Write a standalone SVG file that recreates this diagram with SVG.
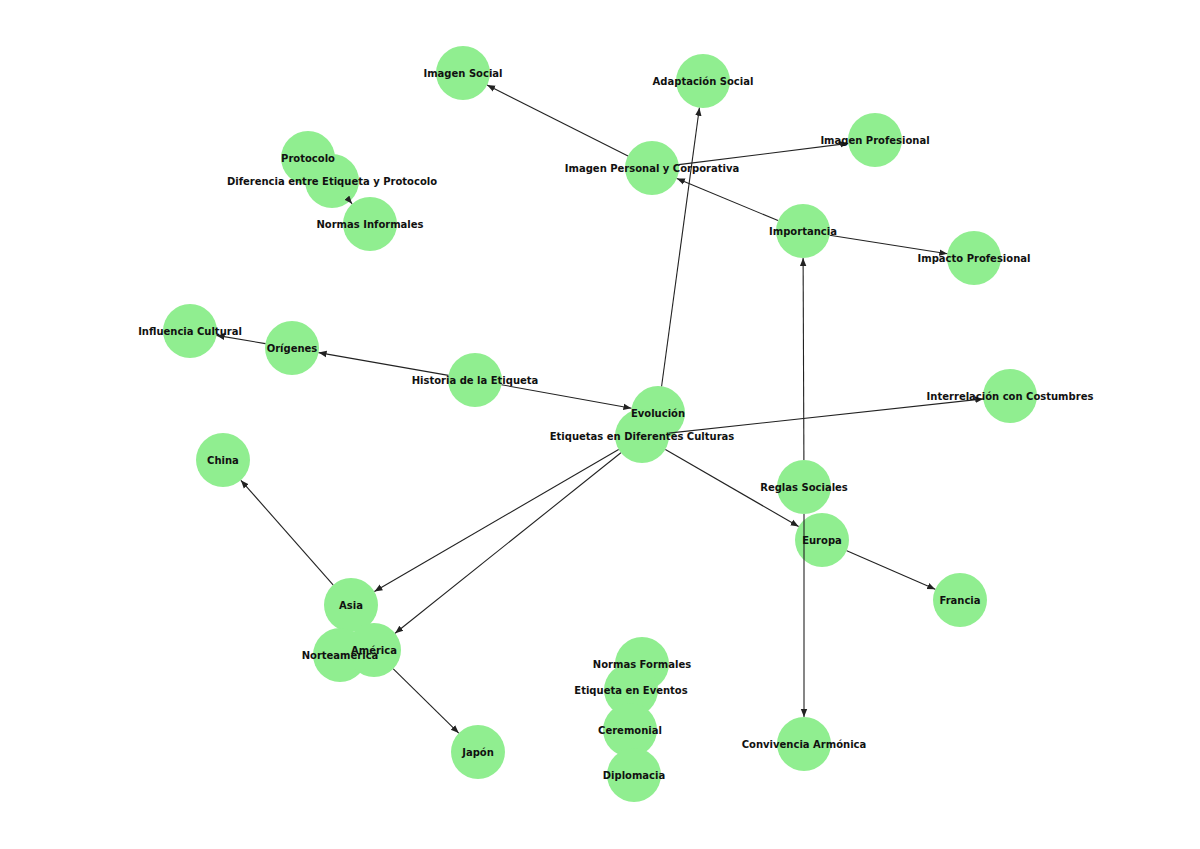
<svg xmlns="http://www.w3.org/2000/svg" width="1200" height="849" viewBox="0 0 1200 849">
<style>
.n circle{fill:#90ee90}
.l text{font-family:"DejaVu Sans",sans-serif;font-weight:bold;font-size:10px;fill:#111;text-anchor:middle;dominant-baseline:central}
.e line{stroke:#222;stroke-width:1.1;marker-end:url(#a)}
</style>
<defs><marker id="a" viewBox="0 0 10 10" refX="10" refY="5" markerWidth="8" markerHeight="8" markerUnits="userSpaceOnUse" orient="auto"><path d="M0,1 L10,5 L0,9 z" fill="#222"/></marker></defs>
<rect width="1200" height="849" fill="#fff"/>
<g id="n-imagen-social" class="n"><circle cx="463" cy="73" r="27"/></g>
<g id="n-adaptacion" class="n"><circle cx="703" cy="81" r="27"/></g>
<g id="n-imagen-prof" class="n"><circle cx="875" cy="140" r="27"/></g>
<g id="n-imagen-pers" class="n"><circle cx="652" cy="168" r="27"/></g>
<g id="n-protocolo" class="n"><circle cx="308" cy="158" r="27"/></g>
<g id="n-diferencia" class="n"><circle cx="332" cy="181" r="27"/></g>
<g id="n-normas-inf" class="n"><circle cx="370" cy="224" r="27"/></g>
<g id="n-importancia" class="n"><circle cx="803" cy="231" r="27"/></g>
<g id="n-impacto" class="n"><circle cx="974" cy="258" r="27"/></g>
<g id="n-influencia" class="n"><circle cx="190" cy="331" r="27"/></g>
<g id="n-origenes" class="n"><circle cx="292" cy="348" r="27"/></g>
<g id="n-historia" class="n"><circle cx="475" cy="380" r="27"/></g>
<g id="n-evolucion" class="n"><circle cx="658" cy="413" r="27"/></g>
<g id="n-etiquetas" class="n"><circle cx="642" cy="436" r="27"/></g>
<g id="n-interrelacion" class="n"><circle cx="1010" cy="396" r="27"/></g>
<g id="n-china" class="n"><circle cx="223" cy="460" r="27"/></g>
<g id="n-reglas" class="n"><circle cx="804" cy="487" r="27"/></g>
<g id="n-europa" class="n"><circle cx="822" cy="540" r="27"/></g>
<g id="n-francia" class="n"><circle cx="960" cy="600" r="27"/></g>
<g id="n-asia" class="n"><circle cx="351" cy="605" r="27"/></g>
<g id="n-norteamerica" class="n"><circle cx="340" cy="655" r="27"/></g>
<g id="n-america" class="n"><circle cx="374" cy="650" r="27"/></g>
<g id="n-japon" class="n"><circle cx="478" cy="752" r="27"/></g>
<g id="n-normas-form" class="n"><circle cx="642" cy="664" r="27"/></g>
<g id="n-eventos" class="n"><circle cx="631" cy="690" r="27"/></g>
<g id="n-ceremonial" class="n"><circle cx="630" cy="730" r="27"/></g>
<g id="n-diplomacia" class="n"><circle cx="634" cy="775" r="27"/></g>
<g id="n-convivencia" class="n"><circle cx="804" cy="744" r="27"/></g>
<g id="edges" class="e">
<line x1="628" y1="156" x2="487.1" y2="85.1"/>
<line x1="678.8" y1="164.6" x2="848.2" y2="143.4"/>
<line x1="778" y1="220.6" x2="676.9" y2="178.4"/>
<line x1="829.7" y1="235.2" x2="947.3" y2="253.8"/>
<line x1="661.6" y1="386.2" x2="699.4" y2="107.8"/>
<line x1="448.4" y1="375.4" x2="318.6" y2="352.6"/>
<line x1="265.4" y1="343.6" x2="216.6" y2="335.4"/>
<line x1="501.6" y1="384.8" x2="631.4" y2="408.2"/>
<line x1="668.8" y1="433.1" x2="983.2" y2="398.9"/>
<line x1="618.6" y1="449.6" x2="374.4" y2="591.4"/>
<line x1="620.9" y1="452.8" x2="395.1" y2="633.2"/>
<line x1="665.4" y1="449.5" x2="798.6" y2="526.5"/>
<line x1="333.1" y1="584.8" x2="240.9" y2="480.3"/>
<line x1="393.3" y1="668.9" x2="458.7" y2="733.1"/>
<line x1="846.8" y1="550.8" x2="935.2" y2="589.2"/>
<line x1="803.9" y1="460" x2="803.1" y2="258"/>
<line x1="804" y1="514" x2="804" y2="717"/>
<line x1="349.9" y1="201.2" x2="352.1" y2="203.8"/>
</g>
<g id="labels" class="l">
<text x="463" y="73">Imagen Social</text>
<text x="703" y="81">Adaptación Social</text>
<text x="875" y="140">Imagen Profesional</text>
<text x="652" y="168">Imagen Personal y Corporativa</text>
<text x="308" y="158">Protocolo</text>
<text x="332" y="181">Diferencia entre Etiqueta y Protocolo</text>
<text x="370" y="224">Normas Informales</text>
<text x="803" y="231">Importancia</text>
<text x="974" y="258">Impacto Profesional</text>
<text x="190" y="331">Influencia Cultural</text>
<text x="292" y="348">Orígenes</text>
<text x="475" y="380">Historia de la Etiqueta</text>
<text x="658" y="413">Evolución</text>
<text x="642" y="436">Etiquetas en Diferentes Culturas</text>
<text x="1010" y="396">Interrelación con Costumbres</text>
<text x="223" y="460">China</text>
<text x="804" y="487">Reglas Sociales</text>
<text x="822" y="540">Europa</text>
<text x="960" y="600">Francia</text>
<text x="351" y="605">Asia</text>
<text x="340" y="655">Norteamérica</text>
<text x="374" y="650">América</text>
<text x="478" y="752">Japón</text>
<text x="642" y="664">Normas Formales</text>
<text x="631" y="690">Etiqueta en Eventos</text>
<text x="630" y="730">Ceremonial</text>
<text x="634" y="775">Diplomacia</text>
<text x="804" y="744">Convivencia Armónica</text>
</g>
</svg>
